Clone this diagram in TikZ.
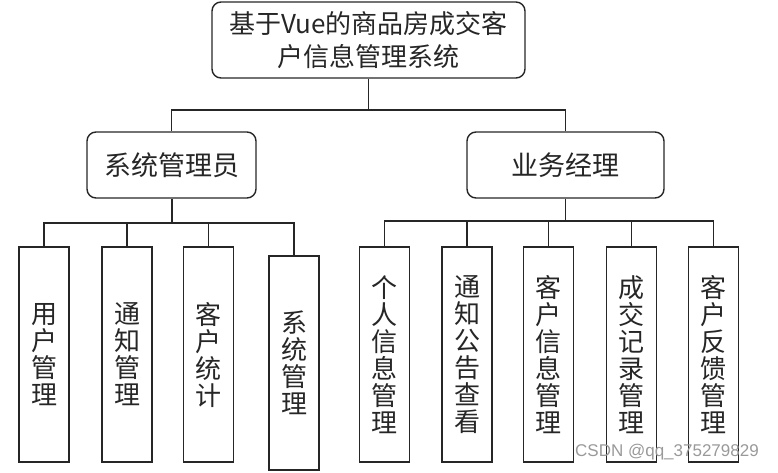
\documentclass[tikz,border=0pt]{standalone}
\usepackage{fontspec}
\setmainfont{Noto Sans CJK SC}
\newfontfamily\wmfont{Liberation Sans}
\begin{document}
\begin{tikzpicture}[x=1pt,y=-1pt,
  conn/.style={line width=1.3pt, draw=black!85},
  rbox/.style={draw=black!85, line width=1.4pt, rounded corners=9pt, inner sep=0pt, align=center, text=black!85},
  leaf/.style={draw=black!85, line width=1.4pt, inner sep=0pt, minimum width=50pt, minimum height=215pt, align=center, text=black!85, font=\fontsize{26}{27}\selectfont}]
\useasboundingbox (0,0) rectangle (778,472);
\node[rbox, minimum width=313pt, minimum height=76pt, font=\fontsize{26}{33}\selectfont] (top) at (368.5,40) {基于Vue的商品房成交客\\户信息管理系统};
\node[rbox, minimum width=169pt, minimum height=66pt, font=\fontsize{27}{30}\selectfont] (admin) at (171.5,165) {系统管理员};
\node[rbox, minimum width=197pt, minimum height=66pt, font=\fontsize{27}{30}\selectfont] (biz) at (565.5,165) {业务经理};
\node[leaf] (l1) at (44,354.5) {用\\户\\管\\理};
\node[leaf] (l2) at (127,354.5) {通\\知\\管\\理};
\node[leaf] (l3) at (208.5,354.5) {客\\户\\统\\计};
\node[leaf, minimum height=214pt] (l4) at (294,363) {系\\统\\管\\理};
\node[leaf] (r1) at (384.5,354.5) {个\\人\\信\\息\\管\\理};
\node[leaf] (r2) at (467,354.5) {通\\知\\公\\告\\查\\看};
\node[leaf] (r3) at (548.5,354.5) {客\\户\\信\\息\\管\\理};
\node[leaf] (r4) at (631.5,354.5) {成\\交\\记\\录\\管\\理};
\node[leaf] (r5) at (713.5,354.5) {客\\户\\反\\馈\\管\\理};
\coordinate (j0) at (368.5,110);
\coordinate (j1) at (171.5,223);
\coordinate (j2) at (565.5,221);
\draw[conn] (top.south) -- (j0);
\draw[conn] (admin.north) |- (j0) -| (biz.north);
\draw[conn, line width=2pt] (admin.south) -- (j1);
\draw[conn] (l1.north) |- (j1) -| (l4.north);
\draw[conn] (l2.north) -- (l2.north |- j1);
\draw[conn] (l3.north) -- (l3.north |- j1);
\draw[conn] (biz.south) -- (j2);
\draw[conn] (r1.north) |- (j2) -| (r5.north);
\draw[conn] (r2.north) -- (r2.north |- j2);
\draw[conn] (r3.north) -- (r3.north |- j2);
\draw[conn] (r4.north) -- (r4.north |- j2);
\node[text=black!40, font=\wmfont\fontsize{17}{17}\selectfont, inner sep=0pt] (wm) at (667,452) {CSDN @qq\_375279829};
\end{tikzpicture}
\end{document}
